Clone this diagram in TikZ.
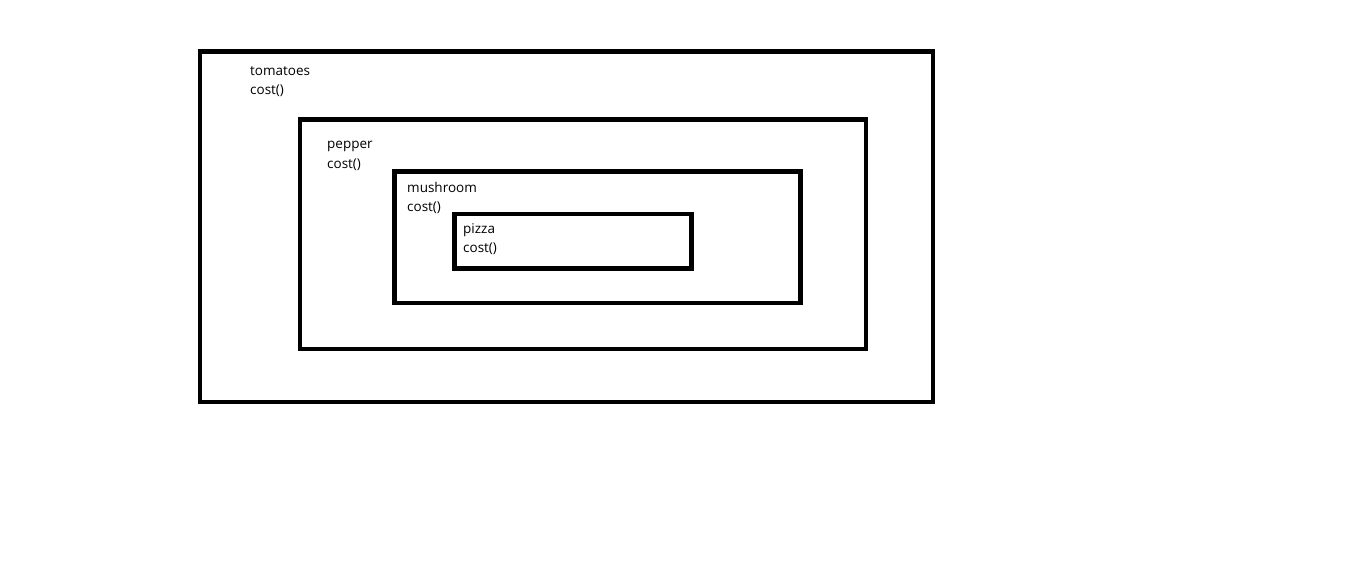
\documentclass[tikz,border=0pt]{standalone}
\usepackage{fontspec}
\setmainfont{Open Sans}
\begin{document}
\begin{tikzpicture}[x=1pt,y=-1pt,
  box/.style={draw=black,line width=4.5pt},
  lbl/.style={anchor=base west,inner sep=0pt,font=\fontsize{13.5}{16}\selectfont}]
\useasboundingbox (0,0) rectangle (1360,575);
\draw[box] (200,51.5) rectangle (933,402);
\draw[box] (300,119.5) rectangle (866,349);
\draw[box] (394.5,171.5) rectangle (800.5,303);
\draw[box] (454.5,214) rectangle (691.5,268.5);
\node[lbl] (t1) at (250,76) {tomatoes};
\node[lbl] (t2) at (250,95) {cost()};
\node[lbl] (p1) at (327,149) {pepper};
\node[lbl] (p2) at (327,168) {cost()};
\node[lbl] (m1) at (407,192) {mushroom};
\node[lbl] (m2) at (407,211) {cost()};
\node[lbl] (z1) at (463,233) {pizza};
\node[lbl] (z2) at (463,252) {cost()};
\end{tikzpicture}
\end{document}
